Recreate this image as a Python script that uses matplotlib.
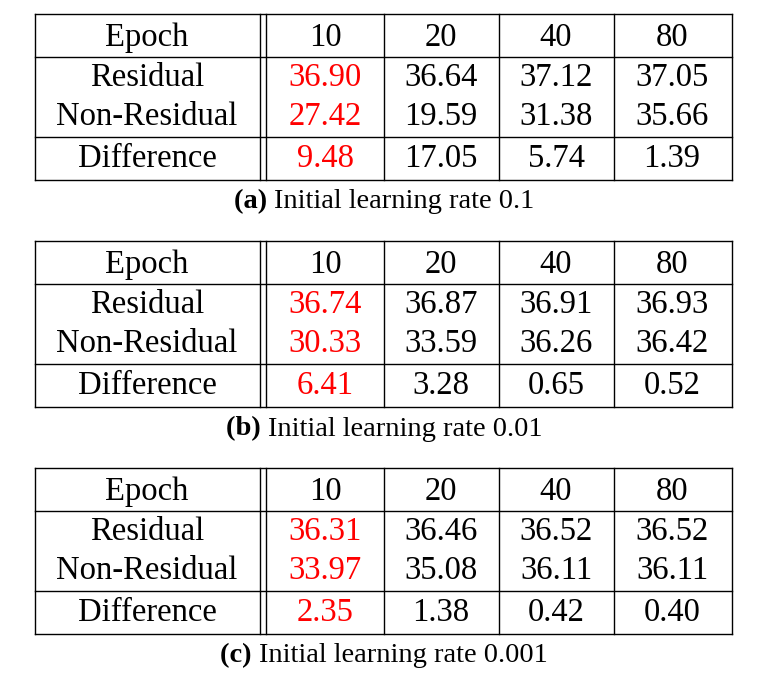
import matplotlib.pyplot as plt

epochs = ["10", "20", "40", "80"]
row_names = ["Residual", "Non-Residual", "Difference"]
residual = [["36.90", "36.64", "37.12", "37.05"],
            ["36.74", "36.87", "36.91", "36.93"],
            ["36.31", "36.46", "36.52", "36.52"]]
non_residual = [["27.42", "19.59", "31.38", "35.66"],
                ["30.33", "33.59", "36.26", "36.42"],
                ["33.97", "35.08", "36.11", "36.11"]]
difference = [["9.48", "17.05", "5.74", "1.39"],
              ["6.41", "3.28", "0.65", "0.52"],
              ["2.35", "1.38", "0.42", "0.40"]]
labels = ["(a)", "(b)", "(c)"]
captions = ["Initial learning rate 0.1", "Initial learning rate 0.01", "Initial learning rate 0.001"]

plt.rcParams['font.family'] = ['Liberation Serif', 'DejaVu Serif']
fig = plt.figure(figsize=(7.58, 6.78), dpi=100)
ax = fig.add_axes([0, 0, 1, 1])
ax.set_xlim(0, 758); ax.set_ylim(678, 0); ax.axis('off')

xl, xr = 35, 732
vlines = [35, 260, 266, 384, 499, 614, 732]
col_c = [147, 325, 441, 556, 672]
fs = 23.5
lw = 1.0
for t in range(3):
    top = 14 + t * 227
    h1, h2, bot = top + 43, top + 123, top + 166
    for y in (top, h1, h2, bot):
        ax.plot([xl, xr], [y, y], color='black', lw=lw)
    for x in vlines:
        ax.plot([x, x], [top, bot], color='black', lw=lw)
    ys = [top + 24, top + 64, top + 103, top + 145]
    ax.text(col_c[0], ys[0], "Epoch", ha='center', va='center', fontsize=fs)
    for j, e in enumerate(epochs):
        ax.text(col_c[j + 1], ys[0], e, ha='center', va='center', fontsize=fs)
    rows = [residual[t], non_residual[t], difference[t]]
    for i, (name, vals) in enumerate(zip(row_names, rows)):
        ax.text(col_c[0], ys[i + 1], name, ha='center', va='center', fontsize=fs)
        for j, v in enumerate(vals):
            ax.text(col_c[j + 1], ys[i + 1], v, ha='center', va='center', fontsize=fs,
                    color='#ff0000' if j == 0 else 'black')
    cy = bot + 22
    lab = ax.text(0, cy, labels[t] + " ", fontsize=20.5, fontweight='bold', va='center')
    cap = ax.text(0, cy, captions[t], fontsize=20.5, va='center')
    fig.canvas.draw()
    r = fig.canvas.get_renderer()
    w1 = lab.get_window_extent(r).width
    w2 = cap.get_window_extent(r).width
    x0 = 384 - (w1 + w2) / 2
    lab.set_x(x0); cap.set_x(x0 + w1)

fig.savefig("out.png", dpi=100)
